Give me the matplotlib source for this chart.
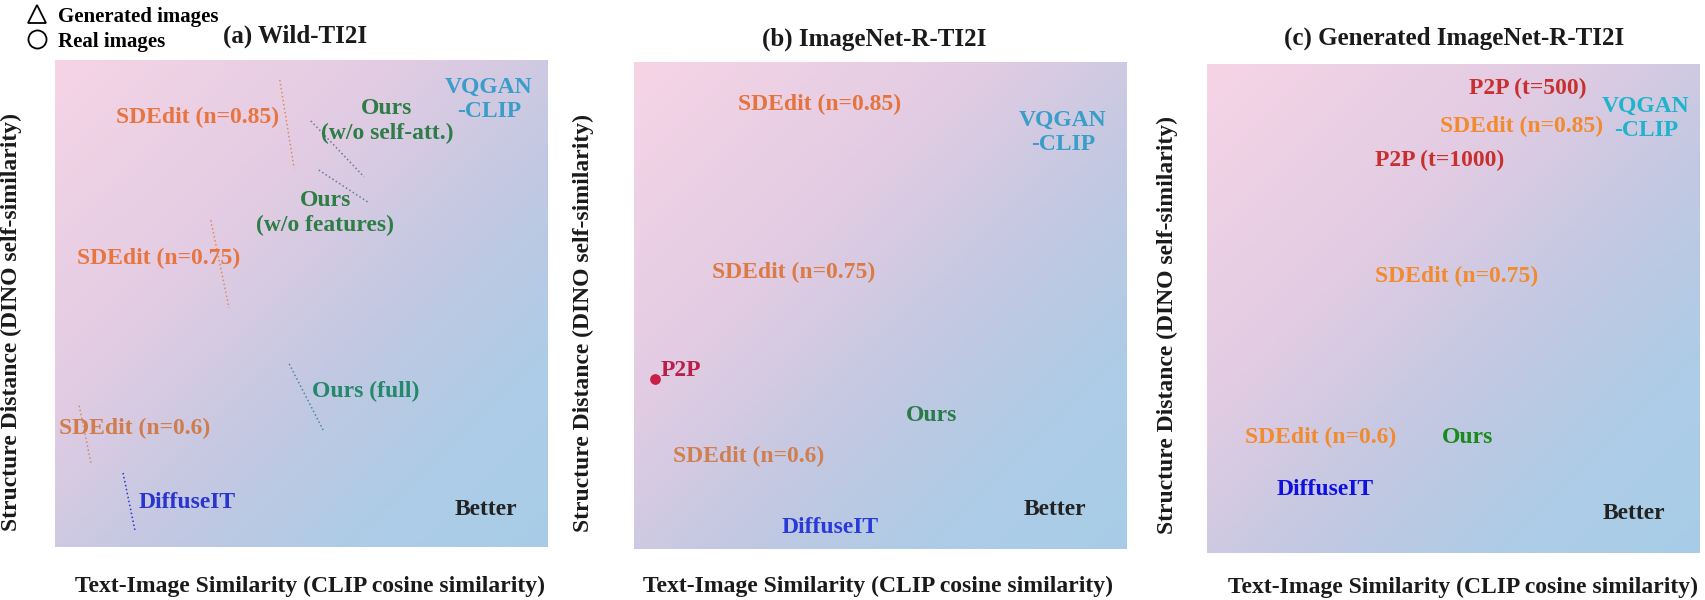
import numpy as np
import matplotlib
matplotlib.use('Agg')
import matplotlib.pyplot as plt
from matplotlib.colors import LinearSegmentedColormap
from matplotlib.lines import Line2D

plt.rcParams['font.family'] = ['Liberation Serif', 'DejaVu Serif']
plt.rcParams['font.weight'] = 'bold'

# Panel titles and axis labels
titles = ['(a) Wild-TI2I', '(b) ImageNet-R-TI2I', '(c) Generated ImageNet-R-TI2I']
x_label = 'Text-Image Similarity (CLIP cosine similarity)'
y_label = 'Structure Distance (DINO self-similarity)'

# (a) Wild-TI2I: method labels and their positions (normalised axis units)
a_labels = ['SDEdit (n=0.85)', 'Ours\n(w/o self-att.)', 'VQGAN\n-CLIP', 'Ours\n(w/o features)',
            'SDEdit (n=0.75)', 'Ours (full)', 'SDEdit (n=0.6)', 'DiffuseIT', 'Better']
a_x = [0.290, 0.673, 0.880, 0.548, 0.211, 0.631, 0.162, 0.268, 0.874]
a_y = [0.883, 0.875, 0.920, 0.686, 0.593, 0.320, 0.244, 0.092, 0.078]
# dotted leader segments in (a): x0, y0, x1, y1
a_seg_x0 = [0.456, 0.519, 0.535, 0.316, 0.475, 0.049, 0.138]
a_seg_y0 = [0.959, 0.875, 0.774, 0.671, 0.376, 0.290, 0.152]
a_seg_x1 = [0.485, 0.627, 0.635, 0.353, 0.546, 0.073, 0.162]
a_seg_y1 = [0.778, 0.760, 0.708, 0.491, 0.236, 0.172, 0.035]

# (b) ImageNet-R-TI2I
b_labels = ['SDEdit (n=0.85)', 'VQGAN\n-CLIP', 'SDEdit (n=0.75)', 'Ours',
            'SDEdit (n=0.6)', 'DiffuseIT', 'Better']
b_x = [0.377, 0.870, 0.323, 0.604, 0.233, 0.398, 0.854]
b_y = [0.912, 0.856, 0.567, 0.275, 0.191, 0.045, 0.082]
b_p2p_x = [0.043]
b_p2p_y = [0.349]

# (c) Generated ImageNet-R-TI2I
c_labels = ['P2P (t=500)', 'SDEdit (n=0.85)', 'VQGAN\n-CLIP', 'P2P (t=1000)',
            'SDEdit (n=0.75)', 'SDEdit (n=0.6)', 'Ours', 'DiffuseIT', 'Better']
c_x = [0.651, 0.639, 0.890, 0.471, 0.507, 0.231, 0.529, 0.239, 0.866]
c_y = [0.951, 0.873, 0.888, 0.802, 0.566, 0.237, 0.237, 0.129, 0.080]

# colours
a_colors = ['#e8743e', '#2e7d46', '#3a9ec8', '#2e7d46', '#e8743e', '#23896a',
            '#d07c4c', '#2a35d0', '#222222']
a_seg_colors = ['#e08a60', '#6a7a9a', '#6a7a9a', '#e08a60', '#4a8aa0', '#d08a6a', '#2a35d0']
b_colors = ['#e4733c', '#3a9ec8', '#dc7a44', '#2a7a4a', '#d08050', '#2a3ad8', '#222222']
c_colors = ['#c83030', '#f28a2e', '#20b4cc', '#c83030', '#f28a2e', '#f28a2e',
            '#1a8a1a', '#1010e0', '#222222']

W, H = 1705, 600
fig = plt.figure(figsize=(W / 100, H / 100), dpi=100)

# axes boxes in pixels: left, top, right, bottom
boxes = [(55, 60, 548, 547), (634, 62, 1127, 549), (1207, 64, 1700, 553)]
axes = []
for (l, t, r, b) in boxes:
    axes.append(fig.add_axes([l / W, 1 - b / H, (r - l) / W, (b - t) / H]))

grad = LinearSegmentedColormap.from_list(
    'pb', [(0, '#f6d4e6'), (0.35, '#e2cce3'), (0.6, '#c2c8e2'), (0.8, '#aecce7'), (1, '#a8cce8')])
gx, gy = np.meshgrid(np.linspace(0, 1, 300), np.linspace(1, 0, 300))
gt = (gx + (1 - gy)) / 2

for ax in axes:
    ax.imshow(gt, cmap=grad, extent=[0, 1, 0, 1], aspect='auto', zorder=0)
    ax.set_xlim(0, 1)
    ax.set_ylim(0, 1)
    ax.set_xticks([])
    ax.set_yticks([])
    for s in ax.spines.values():
        s.set_visible(False)

fs = 17

ax = axes[0]
for x0, y0, x1, y1, c in zip(a_seg_x0, a_seg_y0, a_seg_x1, a_seg_y1, a_seg_colors):
    ax.plot([x0, x1], [y0, y1], linestyle=':', color=c, linewidth=1.1)
for lab, x, y, c in zip(a_labels, a_x, a_y, a_colors):
    ax.text(x, y, lab, color=c, fontsize=fs, ha='center', va='center', fontweight='bold')

ax = axes[1]
ax.scatter(b_p2p_x, b_p2p_y, s=45, color='#c81e48', zorder=3)
ax.annotate('P2P', (b_p2p_x[0], b_p2p_y[0]), xytext=(4, 6), textcoords='offset points',
            color='#b8204a', fontsize=fs, ha='left', va='center', fontweight='bold')
for lab, x, y, c in zip(b_labels, b_x, b_y, b_colors):
    ax.text(x, y, lab, color=c, fontsize=fs, ha='center', va='center', fontweight='bold')

ax = axes[2]
for lab, x, y, c in zip(c_labels, c_x, c_y, c_colors):
    ax.text(x, y, lab, color=c, fontsize=fs, ha='center', va='center', fontweight='bold')

# titles, axis labels (figure pixel positions)
title_pos = [(295, 36), (874, 39), (1454, 38)]
xlab_pos = [(310, 586), (878, 586), (1463, 587)]
ylab_pos = [(11, 322), (583, 323), (1167, 325)]
for t, (tx, ty), (xx, xy), (yx, yy) in zip(titles, title_pos, xlab_pos, ylab_pos):
    fig.text(tx / W, 1 - ty / H, t, fontsize=18, ha='center', va='center', color='#1a1a1a')
    fig.text(xx / W, 1 - xy / H, x_label, fontsize=fs, ha='center', va='center', color='#1a1a1a')
    fig.text(yx / W, 1 - yy / H, y_label, fontsize=fs, ha='center', va='center',
             rotation=90, color='#1a1a1a')

# marker legend
handles = [Line2D([], [], marker='^', linestyle='none', markersize=13, markerfacecolor='none',
                  markeredgecolor='black', markeredgewidth=1.3),
           Line2D([], [], marker='o', linestyle='none', markersize=13, markerfacecolor='none',
                  markeredgecolor='black', markeredgewidth=1.3)]
fig.legend(handles, ['Generated images', 'Real images'], loc='upper left',
           bbox_to_anchor=(10 / W, 1 + 8 / H), frameon=False, fontsize=15,
           handletextpad=0.4, labelspacing=0.25, borderpad=0.2, handlelength=1.2)

fig.savefig('out.png', dpi=100)
